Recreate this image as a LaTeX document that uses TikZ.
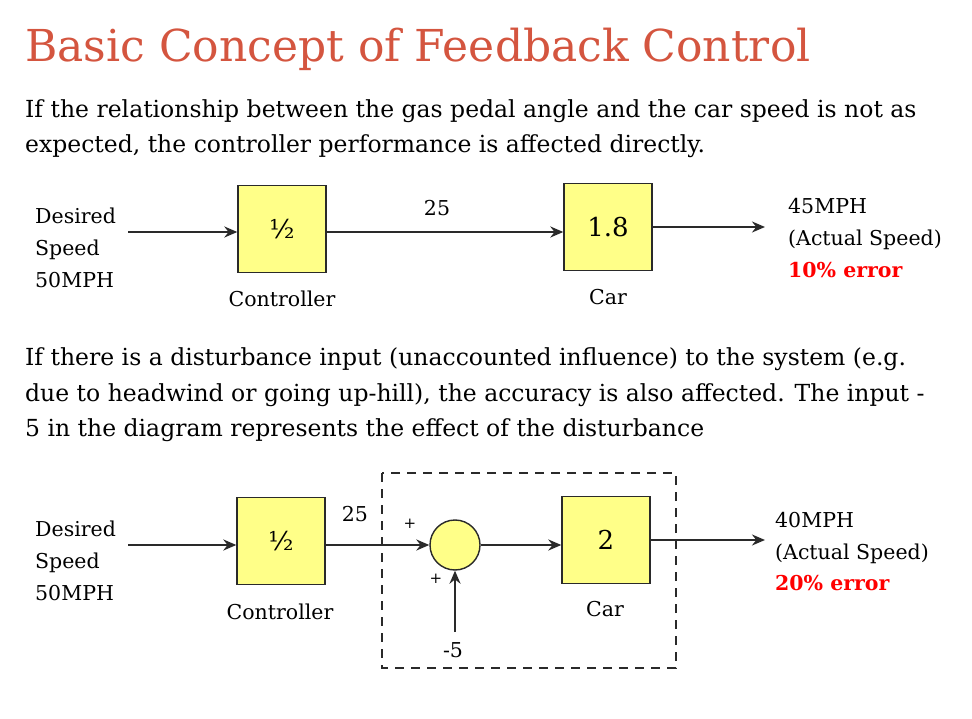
\documentclass[tikz,border=0pt]{standalone}
\usepackage{fontspec}
\setmainfont{DejaVu Serif}
\usetikzlibrary{arrows.meta}
\definecolor{ttl}{HTML}{D4553F}
\definecolor{bx}{HTML}{FFFF88}
\definecolor{ln}{HTML}{2A2A2A}
\begin{document}
\begin{tikzpicture}[x=1pt,y=-1pt,
  blk/.style={draw=ln,line width=1.4pt,fill=bx,minimum width=88pt,minimum height=87pt,inner sep=0pt,font=\fontsize{26}{26}\selectfont},
  txt/.style={inner sep=0pt,anchor=base west,font=\fontsize{23.5}{24}\selectfont},
  lab/.style={inner sep=0pt,anchor=base,font=\fontsize{20.5}{20}\selectfont},
  labl/.style={inner sep=0pt,anchor=base west,font=\fontsize{20.5}{20}\selectfont},
  arr/.style={draw=ln,line width=2pt,-{Stealth[length=13pt,width=11pt]}},
  red/.style={text=red,font=\fontsize{20.5}{20}\selectfont\bfseries}]
\useasboundingbox (0,0) rectangle (972,719);
\node[txt,text=ttl,font=\fontsize{44}{44}\selectfont] (title) at (25,62) {Basic Concept of Feedback Control};
\node[txt] (p1) at (25,118) {If the relationship between the gas pedal angle and the car speed is not as};
\node[txt] (p2) at (25,153) {expected, the controller performance is affected directly.};
\node[txt] (p3) at (25,366) {If there is a disturbance input (unaccounted influence) to the system (e.g.};
\node[txt] (p4) at (25,401) {due to headwind or going up-hill), the accuracy is also affected. The input -};
\node[txt] (p5) at (25,436) {5 in the diagram represents the effect of the disturbance};
% diagram 1
\node[blk] (c1) at (282,229) {½};
\node[blk] (k1) at (608,227) {1.8};
\node[labl] (d1a) at (35,224) {Desired};
\node[labl] (d1b) at (35,256) {Speed};
\node[labl] (d1c) at (35,288) {50MPH};
\coordinate (s1) at (128,232);
\coordinate (e1) at (765,227);
\draw[arr] (s1) -- (s1-|c1.west);
\draw[arr] (c1.east|-0,232) -- (k1.west|-0,232);
\draw[arr] (k1.east) -- (e1);
\node[lab] (n25a) at (437,216) {25};
\node[lab] (ctl1) at (282,307) {Controller};
\node[lab] (car1) at (608,305) {Car};
\node[labl] (o1a) at (788,214) {45MPH};
\node[labl] (o1b) at (788,246) {(Actual Speed)};
\node[labl,red] (o1c) at (788,278) {10\% error};
% diagram 2
\draw[ln,line width=1.4pt,dash pattern=on 9pt off 7pt] (382,473) rectangle (676,668);
\node[blk] (c2) at (281,541) {½};
\node[blk] (k2) at (606,540) {2};
\node[circle,draw=ln,line width=1.4pt,fill=bx,minimum size=50pt,inner sep=0pt] (sum) at (455,545) {};
\node[labl] (d2a) at (35,536) {Desired};
\node[labl] (d2b) at (35,568) {Speed};
\node[labl] (d2c) at (35,600) {50MPH};
\coordinate (s2) at (128,545);
\coordinate (e2) at (765,540);
\coordinate (dist) at (455,632);
\draw[arr] (s2) -- (s2-|c2.west);
\draw[arr] (c2.east|-sum) -- (sum.west);
\draw[arr] (sum.east) -- (sum-|k2.west);
\draw[arr] (k2.east) -- (e2);
\draw[arr] (dist) -- (sum.south);
\node[lab] (n25b) at (355,521) {25};
\node[lab,font=\fontsize{15}{15}\selectfont] (pl1) at (410,528) {+};
\node[lab,font=\fontsize{15}{15}\selectfont] (pl2) at (436,583) {+};
\node[lab] (m5) at (453,657) {-5};
\node[lab] (ctl2) at (280,619) {Controller};
\node[lab] (car2) at (605,616) {Car};
\node[labl] (o2a) at (775,527) {40MPH};
\node[labl] (o2b) at (775,559) {(Actual Speed)};
\node[labl,red] (o2c) at (775,590) {20\% error};
\end{tikzpicture}
\end{document}
